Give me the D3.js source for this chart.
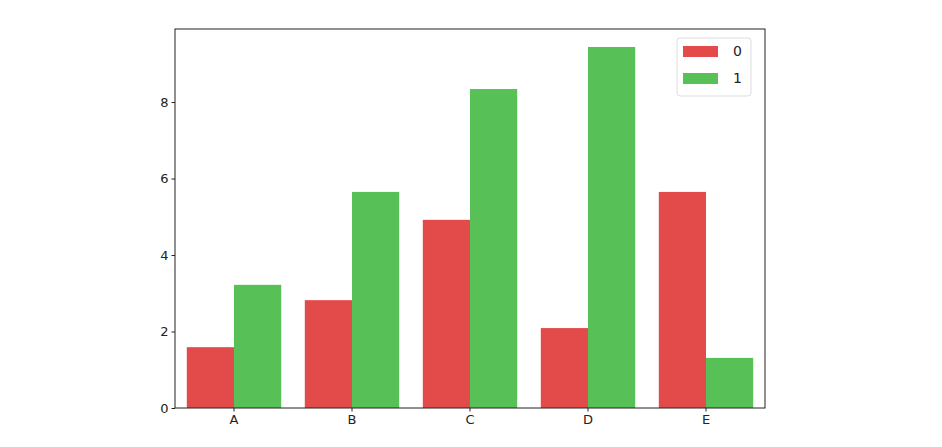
<!DOCTYPE html><html><head><script src="https://cdn.jsdelivr.net/npm/d3@7"></script>
<style>body{margin:0;background:#fff}text{font-family:"DejaVu Sans",sans-serif;}</style></head><body>
<svg id="c" width="942" height="447"></svg>
<script>
const categories=["A","B","C","D","E"];
const series0=[1.59,2.82,4.92,2.09,5.65];
const series1=[3.22,5.65,8.34,9.44,1.31];
const seriesNames=["0","1"];
const colors=["#e34a4a","#57c057"];
const yTicks=[0,2,4,6,8];
const svg=d3.select("#c");
const L=175,R=765,T=29,B=408;
const x=d3.scaleBand().domain(categories).range([L,R]).paddingInner(0.2).paddingOuter(0.1);
const xs=d3.scaleBand().domain([0,1]).range([0,x.bandwidth()]);
const y=d3.scaleLinear().domain([0,9.91]).range([B,T]);
[series0,series1].forEach((s,i)=>{
 svg.selectAll(null).data(s).enter().append("rect")
  .attr("x",(d,j)=>x(categories[j])+xs(i)).attr("width",xs.bandwidth())
  .attr("y",d=>y(d)).attr("height",d=>B-y(d)).attr("fill",colors[i]);
});
const xa=svg.append("g").attr("transform",`translate(0,${B})`).call(d3.axisBottom(x).tickSize(3.5).tickSizeOuter(0));
const ya=svg.append("g").attr("transform",`translate(${L},0)`).call(d3.axisLeft(y).tickValues(yTicks).tickSize(3.5).tickSizeOuter(0));
[xa,ya].forEach(a=>{a.select(".domain").remove();a.selectAll("text").attr("font-size",13).attr("fill","#222");a.selectAll("line").attr("stroke","#222");});
svg.append("rect").attr("x",L).attr("y",T).attr("width",R-L).attr("height",B-T).attr("fill","none").attr("stroke","#222").attr("stroke-width",1);
const lg=svg.append("g");
lg.append("rect").attr("x",677).attr("y",38).attr("width",74).attr("height",58).attr("rx",3).attr("fill","#fff").attr("stroke","#ddd");
seriesNames.forEach((n,i)=>{
 lg.append("rect").attr("x",683).attr("y",46+i*27).attr("width",35).attr("height",11).attr("fill",colors[i]);
 lg.append("text").attr("x",733).attr("y",56+i*27).attr("font-size",14).attr("fill","#222").text(n);
});
</script></body></html>
